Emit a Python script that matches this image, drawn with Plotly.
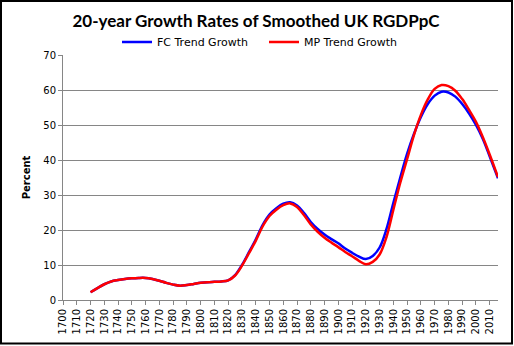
import plotly.graph_objects as go

# 20-year growth rates (percent) of smoothed UK real GDP per capita
years = [1720, 1725, 1730, 1735, 1740, 1745, 1750, 1755, 1760, 1765,
         1770, 1775, 1780, 1785, 1790, 1795, 1800, 1805, 1810, 1815,
         1820, 1825, 1830, 1835, 1840, 1845, 1850, 1855, 1860, 1865,
         1870, 1875, 1880, 1885, 1890, 1895, 1900, 1905, 1910, 1915,
         1920, 1925, 1930, 1935, 1940, 1945, 1950, 1955, 1960, 1965,
         1970, 1975, 1980, 1985, 1990, 1995, 2000, 2005, 2010, 2016]

fc_growth = [2.2, 3.4, 4.5, 5.3, 5.7, 6.0, 6.2, 6.3, 6.3, 6.0,
             5.5, 4.9, 4.4, 4.1, 4.3, 4.6, 4.9, 5.1, 5.2, 5.3,
             5.6, 7.1, 10.0, 13.6, 17.3, 21.4, 24.4, 26.2, 27.5, 27.9,
             27.0, 24.9, 22.3, 20.3, 18.7, 17.4, 16.2, 14.7, 13.5, 12.4,
             11.7, 12.6, 15.0, 20.3, 27.8, 35.0, 41.8, 47.5, 52.3, 56.0,
             58.4, 59.5, 59.3, 58.1, 56.0, 53.3, 50.0, 46.0, 41.0, 34.8]

mp_growth = [2.2, 3.4, 4.5, 5.3, 5.7, 6.0, 6.2, 6.3, 6.3, 6.0,
             5.5, 4.9, 4.4, 4.1, 4.3, 4.6, 4.9, 5.1, 5.2, 5.3,
             5.6, 7.0, 9.8, 13.3, 16.9, 21.0, 24.0, 25.8, 27.1, 27.6,
             26.6, 24.3, 21.6, 19.5, 17.8, 16.4, 15.1, 13.7, 12.5, 11.2,
             10.2, 10.9, 13.0, 18.0, 25.8, 33.5, 40.3, 47.2, 52.9, 57.3,
             60.3, 61.4, 61.1, 59.8, 57.4, 54.3, 50.9, 46.5, 41.5, 35.1]

tick_years = list(range(1700, 2011, 10))
tick_labels = [str(y) for y in tick_years]

W, H = 514, 346
ML, MR, MT, MB = 63, 16, 55, 46
PW, PH = W - ML - MR, H - MT - MB

fig = go.Figure()
fig.add_trace(go.Scatter(x=years, y=fc_growth, name="FC Trend Growth", mode="lines",
                         line=dict(color="#0000FF", width=2.5, shape="spline", smoothing=1)))
fig.add_trace(go.Scatter(x=years, y=mp_growth, name="MP Trend Growth", mode="lines",
                         line=dict(color="#FF0000", width=2.5, shape="spline", smoothing=1)))


def px_to_paper(xp, yp):
    return (xp - ML) / PW, (H - MB - yp) / PH


bx0, by0 = px_to_paper(1, 1)
bx1, by1 = px_to_paper(512, 343.5)
fig.add_shape(type="rect", xref="paper", yref="paper", x0=bx0, y0=by1, x1=bx1, y1=by0,
              line=dict(color="black", width=2), layer="above")

lx, ly = px_to_paper(117, 42)

fig.update_layout(
    width=W, height=H,
    margin=dict(l=ML, r=MR, t=MT, b=MB),
    paper_bgcolor="white", plot_bgcolor="white",
    font=dict(family="DejaVu Sans", color="black", size=10),
    title=dict(text="<b>20-year Growth Rates of Smoothed UK RGDPpC</b>",
               x=256 / W, xanchor="center", y=1 - 21 / H, yanchor="middle",
               font=dict(family="Lato", size=17, color="black")),
    legend=dict(orientation="h", x=lx, xanchor="left", y=ly, yanchor="middle",
                font=dict(family="DejaVu Sans", size=11, color="black"),
                bgcolor="rgba(0,0,0,0)", traceorder="normal",
                entrywidth=102, entrywidthmode="pixels"),
    showlegend=True,
)

fig.update_xaxes(range=[1700, 2016], tickmode="array", tickvals=tick_years, ticktext=tick_labels,
                 tickangle=-90, ticks="outside", ticklen=4, tickcolor="#868686",
                 showline=True, linecolor="#868686", linewidth=1, showgrid=False,
                 zeroline=False, tickfont=dict(size=10))
fig.update_yaxes(range=[0, 70], dtick=10, ticks="outside", ticklen=4, tickcolor="#868686",
                 showline=True, linecolor="#868686", linewidth=1,
                 showgrid=True, gridcolor="#868686", gridwidth=1, zeroline=False,
                 tickfont=dict(size=10),
                 title=dict(text="<b>Percent</b>", standoff=10,
                            font=dict(family="DejaVu Sans", size=10)))

fig.write_html("out.html")
